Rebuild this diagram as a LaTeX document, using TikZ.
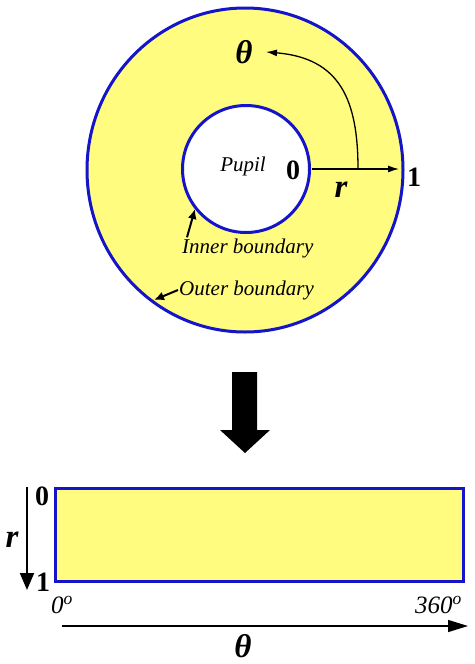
\documentclass[tikz,border=0pt]{standalone}
\usepackage{fontspec}
\setmainfont{Liberation Serif}
\usetikzlibrary{arrows.meta}
\definecolor{irisyellow}{RGB}{255,252,128}
\definecolor{irisblue}{RGB}{20,20,200}

\begin{document}
\begin{tikzpicture}[x=1pt, y=-1pt,
    bnd/.style={draw=irisblue, line width=3pt},
    lbl/.style={font=\fontsize{21}{21}\selectfont\itshape, inner sep=1pt},
    num/.style={font=\fontsize{28}{28}\selectfont\bfseries, inner sep=1pt},
    sym/.style={font=\fontsize{33}{33}\selectfont\bfseries\itshape, inner sep=1pt},
    degl/.style={font=\fontsize{25}{25}\selectfont\itshape, inner sep=1pt},
    thin arrow/.style={line width=1.3pt, -{Latex[length=11pt, width=7pt]}},
    bnd arrow/.style={line width=2pt, -{Latex[length=10pt, width=9pt]}}]
    \useasboundingbox (0,0) rectangle (474,664);
    \path[fill=irisyellow, even odd rule]
        (245,170) ellipse [x radius=158, y radius=162]
        (246,169) circle [radius=63.5];
    \draw[bnd] (245,170) ellipse [x radius=158, y radius=162];
    \draw[bnd] (246,169) circle [radius=63.5];
    \node[lbl] (pupil) at (243,166) {Pupil};
    \node[num] (zero) at (293,170) {0};
    \node[num] (one) at (414,177) {1};
    \node[sym] (rlbl) at (341,190) {r};
    \node[sym] (thtop) at (244,52) {θ};
    \coordinate (rstart) at (312,169);
    \coordinate (rend) at (399,169);
    \coordinate (arcstart) at (358,169);
    \coordinate (arcend) at (266,52);
    \draw[thin arrow] (rstart) -- (rend);
    \draw[thin arrow] (arcstart) .. controls (358,100) and (340,58) .. (arcend);
    \node[lbl, anchor=west] (innerlbl) at (181,248) {Inner boundary};
    \node[lbl, anchor=west] (outerlbl) at (178,290) {Outer boundary};
    \coordinate (innertip) at (195,209);
    \coordinate (outertip) at (154,300);
    \draw[bnd arrow] ([xshift=6pt]innerlbl.north west) -- (innertip);
    \draw[bnd arrow] (outerlbl.west) -- (outertip);
    \fill (232,372) -- (257,372) -- (257,430) -- (270,430)
        -- (245,453) -- (220,430) -- (232,430) -- cycle;
    \draw[bnd, fill=irisyellow] (55,488) rectangle (463,581);
    \node[num] (top0) at (42,496) {0};
    \node[num] (bot1) at (43,582) {1};
    \node[sym] (rside) at (12,540) {r};
    \coordinate (rtop) at (27,487);
    \coordinate (rbot) at (27,590);
    \draw[line width=2pt, -{Triangle[length=17pt, width=14pt]}] (rtop) -- (rbot);
    \node[degl, anchor=west] (deg0) at (50,605) {0\textsuperscript{o}};
    \node[degl, anchor=east] (deg360) at (463,605) {360\textsuperscript{o}};
    \coordinate (thstart) at (62,626);
    \coordinate (thend) at (468,626);
    \draw[line width=1.4pt, -{Triangle[length=20pt, width=12pt]}] (thstart) -- (thend);
    \node[sym] (thbot) at (243,646) {θ};
\end{tikzpicture}
\end{document}
